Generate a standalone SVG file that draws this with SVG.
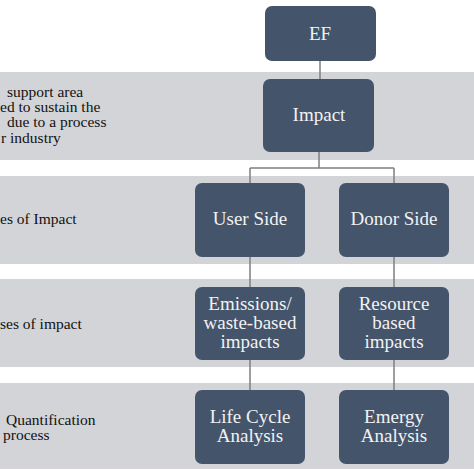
<svg xmlns="http://www.w3.org/2000/svg" width="474" height="474" viewBox="0 0 474 474">
<style>
.band{fill:#d3d4d8}
.node{fill:#44546a}
.nt{fill:#f2f2f2;font-family:'Liberation Serif','Times New Roman',serif;font-size:19px;text-anchor:middle}
.lt{fill:#111;font-family:'Liberation Serif','Times New Roman',serif;font-size:15.5px}
.conn{stroke:#7f7f7f;stroke-width:1.5;fill:none}
</style>
<rect width="474" height="474" fill="#ffffff"/>
<g id="bands">
<rect class="band" x="0" y="72" width="474" height="88"/>
<rect class="band" x="0" y="176" width="474" height="88"/>
<rect class="band" x="0" y="279" width="474" height="88"/>
<rect class="band" x="0" y="383" width="474" height="86"/>
</g>
<g id="labels">
<text class="lt" x="7" y="97">support area</text>
<text class="lt" x="0" y="112">ed to sustain the</text>
<text class="lt" x="7" y="127">due to a process</text>
<text class="lt" x="1" y="143">r industry</text>
<text class="lt" x="0" y="224">es of Impact</text>
<text class="lt" x="0" y="329">ses of impact</text>
<text class="lt" x="6" y="425">Quantification</text>
<text class="lt" x="3" y="440">process</text>
</g>
<g id="connectors">
<path class="conn" d="M320 61V79"/>
<path class="conn" d="M319 152V168M250 168H394M250 168V183M394 168V183"/>
<path class="conn" d="M250 257V287M250 360V390"/>
<path class="conn" d="M394 257V287M394 360V390"/>
</g>
<g id="ef"><rect class="node" x="265" y="6" width="111" height="55" rx="7"/><text class="nt" x="320" y="40">EF</text></g>
<g id="impact"><rect class="node" x="263" y="79" width="111" height="73" rx="7"/><text class="nt" x="319" y="121">Impact</text></g>
<g id="user"><rect class="node" x="195" y="183" width="110" height="74" rx="7"/><text class="nt" x="250" y="225">User Side</text></g>
<g id="donor"><rect class="node" x="339" y="183" width="110" height="74" rx="7"/><text class="nt" x="394" y="225">Donor Side</text></g>
<g id="emissions"><rect class="node" x="195" y="287" width="110" height="73" rx="7"/><text class="nt" x="250" y="310">Emissions/</text><text class="nt" x="250" y="329">waste-based</text><text class="nt" x="250" y="348">impacts</text></g>
<g id="resource"><rect class="node" x="339" y="287" width="110" height="73" rx="7"/><text class="nt" x="394" y="310">Resource</text><text class="nt" x="394" y="329">based</text><text class="nt" x="394" y="348">impacts</text></g>
<g id="lca"><rect class="node" x="195" y="390" width="110" height="74" rx="7"/><text class="nt" x="250" y="423">Life Cycle</text><text class="nt" x="250" y="442">Analysis</text></g>
<g id="emergy"><rect class="node" x="339" y="390" width="110" height="74" rx="7"/><text class="nt" x="394" y="423">Emergy</text><text class="nt" x="394" y="442">Analysis</text></g>
</svg>
